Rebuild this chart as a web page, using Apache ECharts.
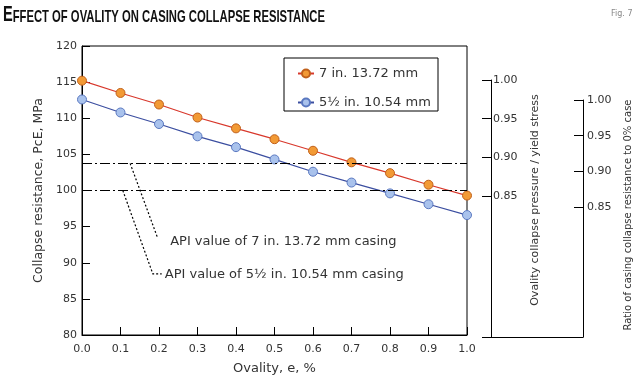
<!DOCTYPE html>
<html><head><meta charset="utf-8">
<script src="https://cdn.jsdelivr.net/npm/echarts@6/dist/echarts.min.js"></script>
<style>html,body{margin:0;padding:0;background:#fff}#c{width:640px;height:380px}</style>
</head><body><div id="c"></div>
<script>
// ---- data ----
const ovality = [0.0, 0.1, 0.2, 0.3, 0.4, 0.5, 0.6, 0.7, 0.8, 0.9, 1.0];
const casing7 = [115.2, 113.5, 111.9, 110.1, 108.6, 107.1, 105.5, 103.9, 102.4, 100.8, 99.3];
const casing5 = [112.6, 110.8, 109.2, 107.5, 106.0, 104.3, 102.6, 101.1, 99.6, 98.1, 96.6];
const seriesNames = ['7 in. 13.72 mm', '5½ in. 10.54 mm'];
const apiValues = [103.75, 100.0];
const apiLabels = ['API value of 7 in. 13.72 mm casing', 'API value of 5½ in. 10.54 mm casing'];
const ratioMinLabelled = 0.85, ratioMax = 1.0, ratioStep = 0.05;
const midAxisTitle = 'Ovality collapse pressure / yield stress';
const rightAxisTitle = 'Ratio of casing collapse resistance to 0% case';
// leader-line anchors in data space [ovality, MPa]
const leader7 = [[0.125, 103.75], [0.197, 93.35]];
const leader5 = [[0.106, 100.0], [0.184, 88.45], [0.207, 88.45]];
const label7At = [0.229, 92.9];
const label5At = [0.215, 88.3];

const chart = echarts.init(document.getElementById('c'), null, {renderer: 'canvas'});
const txt = '#333';
const ff = 'DejaVu Sans, Liberation Sans, Arial, sans-serif';
const blackLine = {show: true, onZero: false, lineStyle: {color: '#000', width: 1}};

function pairs(ys) { return ovality.map((x, i) => [x, ys[i]]); }

const option = {
  animation: false,
  textStyle: {fontFamily: ff},
  grid: [
    {left: 82, top: 46, right: 173, bottom: 43, show: true, borderColor: '#000', borderWidth: 1},
    {left: 491, top: 80, width: 92, bottom: 184},
    {left: 491, top: 100, width: 92, bottom: 173},
    {left: 491, top: 196, width: 92, bottom: 43}
  ],
  legend: {
    left: 292, top: 62, orient: 'vertical', itemGap: 16, itemWidth: 16, itemHeight: 10,
    textStyle: {fontSize: 13, color: txt, fontFamily: ff},
    data: seriesNames
  },
  xAxis: [
    {gridIndex: 0, type: 'value', min: 0, max: 1, interval: 0.1,
     name: 'Ovality, e, %', nameLocation: 'middle', nameGap: 27,
     nameTextStyle: {fontSize: 13, color: txt},
     axisLine: blackLine,
     axisTick: {inside: true, length: 8, lineStyle: {color: '#000'}},
     axisLabel: {fontSize: 11, color: txt, margin: 9, formatter: v => v.toFixed(1)},
     splitLine: {show: false}},
    {gridIndex: 1, type: 'value', min: 0, max: 1, show: false},
    {gridIndex: 2, type: 'value', min: 0, max: 1, show: false},
    {gridIndex: 3, type: 'value', min: 0, max: 1, axisLine: blackLine,
     axisTick: {show: false}, axisLabel: {show: false}, splitLine: {show: false}}
  ],
  yAxis: [
    {gridIndex: 0, type: 'value', min: 80, max: 120, interval: 5,
     name: 'Collapse resistance, PcE, MPa', nameLocation: 'middle', nameGap: 36,
     nameTextStyle: {fontSize: 12.5, color: txt},
     axisLine: blackLine,
     axisTick: {show: true, inside: true, length: 8, lineStyle: {color: '#000'}},
     axisLabel: {fontSize: 11, color: txt, margin: 5},
     splitLine: {show: false}},
    // middle ratio axis (labelled part)
    {gridIndex: 1, type: 'value', position: 'left', min: ratioMinLabelled, max: ratioMax, interval: ratioStep,
     axisLine: blackLine,
     axisTick: {show: true, inside: false, length: 9, lineStyle: {color: '#000'}},
     axisLabel: {inside: true, fontSize: 11, color: txt, margin: 2, formatter: v => v.toFixed(2)},
     splitLine: {show: false}},
    // right ratio axis (labelled part)
    {gridIndex: 2, type: 'value', position: 'right', min: ratioMinLabelled, max: ratioMax, interval: ratioStep,
     axisLine: blackLine,
     axisTick: {show: true, inside: true, length: 9, lineStyle: {color: '#000'}},
     axisLabel: {fontSize: 11, color: txt, margin: 4, formatter: v => v.toFixed(2)},
     splitLine: {show: false}},
    // lower continuation of both ratio axes
    {gridIndex: 3, type: 'value', position: 'left', min: 0, max: 1, interval: 1,
     axisLine: blackLine,
     axisTick: {show: true, inside: false, length: 9, lineStyle: {color: '#000'}},
     axisLabel: {show: false}, splitLine: {show: false}},
    {gridIndex: 3, type: 'value', position: 'right', min: 0, max: 1,
     axisLine: blackLine, axisTick: {show: false}, axisLabel: {show: false}, splitLine: {show: false}}
  ],
  series: [
    {name: seriesNames[0], type: 'line', xAxisIndex: 0, yAxisIndex: 0, data: pairs(casing7),
     symbol: 'circle', symbolSize: 9,
     lineStyle: {color: '#d8382c', width: 1.2},
     itemStyle: {color: '#f29a35', borderColor: '#c0601a', borderWidth: 1},
     markLine: {silent: true, symbol: 'none', label: {show: false},
       lineStyle: {color: '#000', width: 1, type: [10, 3, 2, 3]},
       data: apiValues.map(v => ({yAxis: v}))}},
    {name: seriesNames[1], type: 'line', xAxisIndex: 0, yAxisIndex: 0, data: pairs(casing5),
     symbol: 'circle', symbolSize: 9,
     lineStyle: {color: '#3b4ea0', width: 1.2},
     itemStyle: {color: '#a9c2ec', borderColor: '#5a78c0', borderWidth: 1}}
  ]
};
chart.setOption(option);

// title width fitting
const cv = document.createElement('canvas').getContext('2d');
const tFont = 'Liberation Sans Narrow, Liberation Sans, Arial';
cv.font = 'bold 22px ' + tFont; const wE = cv.measureText('E').width;
cv.font = 'bold 17px ' + tFont; const wR = cv.measureText('FFECT OF OVALITY ON CASING COLLAPSE RESISTANCE').width;
const sx = 322 / (wE + wR);

const P = p => chart.convertToPixel({gridIndex: 0}, p);
chart.setOption({
  graphic: [
    {type: 'rect', shape: {x: 284, y: 58, width: 154, height: 53}, style: {fill: 'none', stroke: '#000', lineWidth: 1}, z: 10},
    {type: 'text', x: 3, y: 4, scaleX: sx, style: {
      text: '{a|E}{b|FFECT OF OVALITY ON CASING COLLAPSE RESISTANCE}',
      rich: {a: {fontSize: 22, fontWeight: 'bold', fontFamily: tFont, fill: '#111', verticalAlign: 'bottom'},
             b: {fontSize: 17, fontWeight: 'bold', fontFamily: tFont, fill: '#111', verticalAlign: 'bottom'}}}},
    {type: 'text', x: 611, y: 10, style: {text: 'Fig. 7', fontSize: 8, fill: '#888', fontFamily: ff}},
    {type: 'text', x: 535, y: 200, rotation: Math.PI / 2, style: {text: midAxisTitle, fontSize: 11, fill: txt, fontFamily: ff, align: 'center', verticalAlign: 'middle'}},
    {type: 'text', x: 628, y: 215, rotation: Math.PI / 2, style: {text: rightAxisTitle, fontSize: 10, fill: txt, fontFamily: ff, align: 'center', verticalAlign: 'middle'}},
    {type: 'polyline', shape: {points: leader7.map(P)}, style: {stroke: '#000', lineWidth: 1.2, lineDash: [2, 2], fill: 'none'}},
    {type: 'polyline', shape: {points: leader5.map(P)}, style: {stroke: '#000', lineWidth: 1.2, lineDash: [2, 2], fill: 'none'}},
    {type: 'text', x: P(label7At)[0], y: P(label7At)[1], style: {text: apiLabels[0], fontSize: 13, fill: txt, fontFamily: ff, verticalAlign: 'middle'}},
    {type: 'text', x: P(label5At)[0], y: P(label5At)[1], style: {text: apiLabels[1], fontSize: 13, fill: txt, fontFamily: ff, verticalAlign: 'middle'}}
  ]
});
</script></body></html>
